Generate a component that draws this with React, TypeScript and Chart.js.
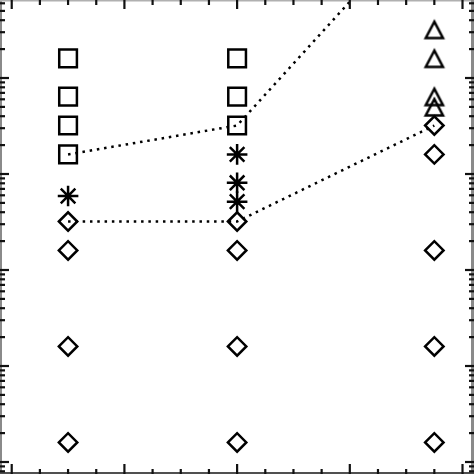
import React, { useEffect, useRef } from "react";
import { Chart, registerables } from "chart.js";

Chart.register(...registerables);

// ---- data ----
const squareX = [0.5, 0.5, 0.5, 0.5, 2, 2, 2];
const squareY = [16000, 6400, 3200, 1600, 16000, 6400, 3200];

const starX = [0.5, 2, 2, 2];
const starY = [590, 1600, 810, 515];

const triangleX = [3.75, 3.75, 3.75, 3.75];
const triangleY = [32000, 16000, 6400, 5000];

const diamondX = [0.5, 0.5, 0.5, 0.5, 2, 2, 2, 2, 3.75, 3.75, 3.75, 3.75, 3.75];
const diamondY = [320, 160, 16, 1.6, 320, 160, 16, 1.6, 3200, 1600, 160, 16, 1.6];

const lineX = [0.5, 2, 3.75];
const upperLineY = [1600, 3200, 580000];
const lowerLineY = [320, 320, 3200];

const xMajorTicks = [0, 1, 2, 3, 4];
const xMinorPerMajor = 4;
const yDecades = [0.1, 1, 10, 100, 1000, 10000];

const X_MIN = -0.104;
const X_MAX = 4.102;
const Y_MIN = 0.75;
const Y_MAX = 64938;

function pts(xs: number[], ys: number[]) {
  return xs.map((x, i) => ({ x, y: ys[i] }));
}

function makeTriangle(): HTMLCanvasElement {
  const c = document.createElement("canvas");
  c.width = 28;
  c.height = 28;
  const g = c.getContext("2d")!;
  g.strokeStyle = "#000";
  g.lineWidth = 2.5;
  g.lineJoin = "miter";
  const cx = 14;
  const cy = 14;
  g.beginPath();
  g.moveTo(cx, cy - 7.9);
  g.lineTo(cx + 8.6, cy + 8.4);
  g.lineTo(cx - 8.6, cy + 8.4);
  g.closePath();
  g.stroke();
  return c;
}

const framePlugin = {
  id: "frame",
  afterDraw(chart: any) {
    const ctx: CanvasRenderingContext2D = chart.ctx;
    const { left, right, top, bottom } = chart.chartArea;
    const xs = chart.scales.x;
    const ys = chart.scales.y;
    ctx.save();
    // borders
    ctx.fillStyle = "#8a8a8a";
    ctx.fillRect(left, top, 2, bottom - top);
    ctx.fillStyle = "#b0b0b0";
    ctx.fillRect(left, top, right - left, 1.5);
    ctx.fillStyle = "#8a8a8a";
    ctx.fillRect(right - 3, top, 3, bottom - top);
    ctx.fillStyle = "#505050";
    ctx.fillRect(left, bottom - 2, right - left, 2);

    ctx.strokeStyle = "#111";
    ctx.lineWidth = 2.2;
    const seg = (x1: number, y1: number, x2: number, y2: number) => {
      ctx.beginPath();
      ctx.moveTo(x1, y1);
      ctx.lineTo(x2, y2);
      ctx.stroke();
    };
    // x ticks top & bottom
    for (let i = 0; i < xMajorTicks.length; i++) {
      const v0 = xMajorTicks[i];
      for (let k = 0; k < xMinorPerMajor; k++) {
        const v = v0 + k / xMinorPerMajor;
        if (v > X_MAX) continue;
        const px = xs.getPixelForValue(v);
        const major = k === 0;
        seg(px, top, px, top + (major ? 9 : 5));
        seg(px, bottom, px, bottom - (major ? 10 : 5));
      }
    }
    // y ticks left & right
    for (const d of yDecades) {
      for (let k = 1; k <= 9; k++) {
        const v = k * d;
        if (v < Y_MIN || v > Y_MAX) continue;
        const py = ys.getPixelForValue(v);
        const major = k === 1;
        seg(left, py, left + (major ? 9 : 5), py);
        seg(right, py, right - (major ? 9 : 5), py);
      }
    }
    ctx.restore();
  },
};

export default function App() {
  const ref = useRef<HTMLCanvasElement | null>(null);

  useEffect(() => {
    document.body.style.margin = "0";
    const canvas = ref.current;
    if (!canvas) return;
    const tri = makeTriangle();
    const markerCommon = {
      borderColor: "#000",
      backgroundColor: "rgba(0,0,0,0)",
      borderWidth: 2.5,
      showLine: false,
    };
    const lineCommon = {
      showLine: true,
      borderColor: "#000",
      borderWidth: 2.5,
      borderDash: [2.5, 4.8],
      borderCapStyle: "butt",
      pointRadius: 0,
      clip: false,
    };
    const chart = new Chart(canvas, {
      type: "scatter",
      data: {
        datasets: [
          { ...lineCommon, data: pts(lineX, upperLineY) } as any,
          { ...lineCommon, data: pts(lineX, lowerLineY) } as any,
          {
            ...markerCommon,
            data: pts(squareX, squareY),
            pointStyle: "rect",
            pointRadius: 12.5,
          },
          {
            ...markerCommon,
            data: pts(starX, starY),
            pointStyle: "star",
            pointRadius: 10.3,
          },
          {
            ...markerCommon,
            data: pts(diamondX, diamondY),
            pointStyle: "rectRot",
            pointRadius: 9.2,
          },
          {
            ...markerCommon,
            data: pts(triangleX, triangleY),
            pointStyle: tri,
            pointRadius: 10,
          },
        ],
      },
      options: {
        animation: false,
        responsive: false,
        devicePixelRatio: 1,
        events: [],
        layout: { padding: 0, autoPadding: false },
        plugins: {
          legend: { display: false },
          tooltip: { enabled: false },
        },
        scales: {
          x: {
            type: "linear",
            min: X_MIN,
            max: X_MAX,
            bounds: "data",
            display: false,
          },
          y: {
            type: "logarithmic",
            min: Y_MIN,
            max: Y_MAX,
            bounds: "data",
            display: false,
          },
        },
      } as any,
      plugins: [framePlugin],
    });
    return () => chart.destroy();
  }, []);

  return (
    <canvas
      ref={ref}
      width={474}
      height={474}
      style={{ display: "block", width: 474, height: 474 }}
    />
  );
}
